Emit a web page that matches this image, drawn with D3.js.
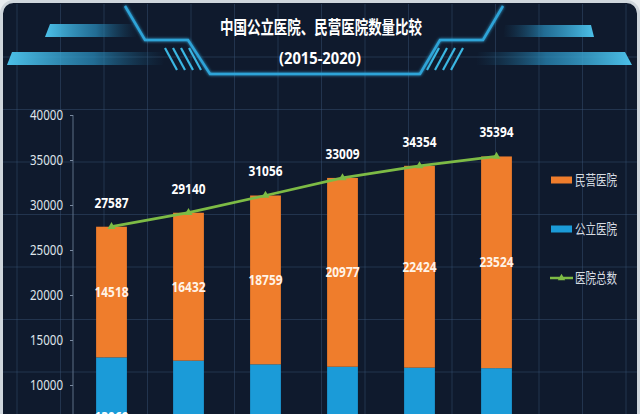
<!DOCTYPE html>
<html><head><meta charset="utf-8">
<script src="https://cdn.jsdelivr.net/npm/d3@7"></script>
<style>html,body{margin:0;padding:0;background:#e9edf0;overflow:hidden}</style>
</head><body>
<svg id="c" width="640" height="414"></svg>
<script>
const years = ["2015","2016","2017","2018","2019","2020"];
const privateH = [14518,16432,18759,20977,22424,23524];
const publicH = [13069,12708,12297,12032,11930,11870];
const totalH = [27587,29140,31056,33009,34354,35394];
const yTicks = [10000,15000,20000,25000,30000,35000,40000];
const seriesNames = ["民营医院","公立医院","医院总数"];
const titleText = "中国公立医院、民营医院数量比较";
const subTitleText = "(2015-2020)";

const W=640,H=414;
const svg=d3.select("#c");
const defs=svg.append("defs");
const orange="#ef7d2c", blue="#1b9bd8", green="#7dbb45";

const f=defs.append("filter").attr("id","glow").attr("x","-20%").attr("y","-50%").attr("width","140%").attr("height","200%");
f.append("feGaussianBlur").attr("stdDeviation",1.6).attr("result","b");
const fm=f.append("feMerge");fm.append("feMergeNode").attr("in","b");fm.append("feMergeNode").attr("in","SourceGraphic");

function grad(id,x1,x2,stops){
  const g=defs.append("linearGradient").attr("id",id).attr("x1",x1).attr("x2",x2).attr("y1","0").attr("y2","0");
  stops.forEach(s=>g.append("stop").attr("offset",s[0]).attr("stop-color",s[1]).attr("stop-opacity",s[2]));
}
grad("gl","0","1",[[0,"#4cc0e8",1],[0.55,"#2a8fbf",0.7],[1,"#1b5f86",0]]);
grad("gr","1","0",[[0,"#4cc0e8",1],[0.55,"#2a8fbf",0.7],[1,"#1b5f86",0]]);

svg.append("rect").attr("x",1.5).attr("y",1.5).attr("width",637).attr("height",440).attr("rx",12)
  .attr("fill","#0f1a2d").attr("stroke","#cfd6dc").attr("stroke-width",3);

const gridG=svg.append("g").attr("stroke","#3a5577").attr("stroke-opacity",0.45).attr("stroke-width",1);
for(let x=17;x<W;x+=43.5) gridG.append("line").attr("x1",x).attr("x2",x).attr("y1",4).attr("y2",H);
for(let y=57;y<H;y+=52.5) gridG.append("line").attr("x1",3).attr("x2",W-3).attr("y1",y).attr("y2",y);

const hd=svg.append("g");
hd.append("polygon").attr("points","50,24 138,24 136,37 45,37").attr("fill","url(#gl)");
hd.append("polygon").attr("points","12,52 165,52 163,65 7,65").attr("fill","url(#gl)");
hd.append("polygon").attr("points","505,25 591,25 594,37 503,37").attr("fill","url(#gr)");
hd.append("polygon").attr("points","478,52 625,52 632,65 476,65").attr("fill","url(#gr)");
hd.append("path").attr("d","M125,6 L145,40 L188,40 L210,74 L420,74 L440,40 L483,40 L503,6")
  .attr("fill","none").attr("stroke","#2fa4d8").attr("stroke-width",2.5).attr("filter","url(#glow)");
[165,173,181,189].forEach(x=>hd.append("line").attr("x1",x).attr("y1",48).attr("x2",x+12).attr("y2",70)
  .attr("stroke","#3ab6e2").attr("stroke-width",2.2));
[463,455,447,439].forEach(x=>hd.append("line").attr("x1",x).attr("y1",48).attr("x2",x-12).attr("y2",70)
  .attr("stroke","#3ab6e2").attr("stroke-width",2.2));

svg.append("text").attr("x",321).attr("y",34).attr("text-anchor","middle")
  .attr("font-family","'Noto Sans CJK SC','Noto Sans',sans-serif").attr("font-weight","bold").attr("font-size",18)
  .attr("fill","#ffffff").attr("textLength",202).attr("lengthAdjust","spacingAndGlyphs").text(titleText);
svg.append("text").attr("x",320).attr("y",64).attr("text-anchor","middle")
  .attr("font-family","'Noto Sans',sans-serif").attr("font-weight","bold").attr("font-size",16)
  .attr("fill","#ffffff").attr("textLength",82).attr("lengthAdjust","spacingAndGlyphs").text(subTitleText);

const x=d3.scaleBand().domain(years).range([73,535]).paddingInner(0.6).paddingOuter(0.3);
const y=d3.scaleLinear().domain([0,40000]).range([475,115]);

const ax=svg.append("g").attr("transform","translate(73,0)")
  .call(d3.axisLeft(y).tickValues(yTicks).tickSize(3).tickPadding(7).tickFormat(d3.format("d")));
ax.select(".domain").attr("stroke","#5c6f86").attr("d","M0,115V480");
ax.selectAll(".tick line").attr("stroke","#7a8aa0");
ax.selectAll(".tick text").attr("fill","#dfe4ea").attr("font-family","'Noto Sans',sans-serif").attr("font-size",13.5)
  .attr("textLength",33).attr("lengthAdjust","spacingAndGlyphs");

const data=years.map((yr,i)=>({yr,pub:publicH[i],pri:privateH[i],tot:totalH[i]}));
svg.append("g").selectAll("rect").data(data).join("rect")
  .attr("x",d=>x(d.yr)).attr("width",x.bandwidth())
  .attr("y",d=>y(d.pub)).attr("height",d=>y(0)-y(d.pub)).attr("fill",blue);
svg.append("g").selectAll("rect").data(data).join("rect")
  .attr("x",d=>x(d.yr)).attr("width",x.bandwidth())
  .attr("y",d=>y(d.pub+d.pri)).attr("height",d=>y(d.pub)-y(d.pub+d.pri)).attr("fill",orange);

const cx=d=>x(d.yr)+x.bandwidth()/2;
svg.append("path").datum(data).attr("fill","none").attr("stroke",green).attr("stroke-width",2.8)
  .attr("d",d3.line().x(cx).y(d=>y(d.tot)));
svg.append("g").selectAll("path").data(data).join("path")
  .attr("transform",d=>`translate(${cx(d)},${y(d.tot)})`)
  .attr("d",d3.symbol(d3.symbolTriangle,28)).attr("fill",green);

const lf="'Noto Sans',sans-serif";
function lab(sel){return sel.attr("text-anchor","middle").attr("font-family",lf).attr("font-weight","bold")
  .attr("font-size",14).attr("textLength",34).attr("lengthAdjust","spacingAndGlyphs");}
lab(svg.append("g").selectAll("text").data(data).join("text")
  .attr("x",cx).attr("y",d=>y(d.tot)-19)).attr("fill","#ffffff").text(d=>d.tot);
lab(svg.append("g").selectAll("text").data(data).join("text")
  .attr("x",cx).attr("y",d=>y(d.pub+d.pri/2)+5)).attr("fill","#fff4e8").text(d=>d.pri);
lab(svg.append("g").selectAll("text").data(data).join("text")
  .attr("x",cx).attr("y",d=>y(d.pub/2)+6)).attr("fill","#ffffff").text(d=>d.pub);

const lg=svg.append("g");
const legY=[180,229,278];
lg.append("rect").attr("x",551).attr("y",legY[0]-3.5).attr("width",21).attr("height",7).attr("fill",orange);
lg.append("rect").attr("x",551).attr("y",legY[1]-3.5).attr("width",21).attr("height",7).attr("fill",blue);
lg.append("line").attr("x1",550).attr("x2",573).attr("y1",legY[2]).attr("y2",legY[2]).attr("stroke",green).attr("stroke-width",2.5);
lg.append("path").attr("transform",`translate(561.5,${legY[2]})`).attr("d",d3.symbol(d3.symbolTriangle,24)).attr("fill",green);
seriesNames.forEach((n,i)=>lg.append("text").attr("x",575).attr("y",legY[i]+5)
  .attr("font-family","'Noto Sans CJK SC',sans-serif").attr("font-size",14).attr("fill","#d6dce2")
  .attr("textLength",42).attr("lengthAdjust","spacingAndGlyphs").text(n));
</script>
</body></html>
